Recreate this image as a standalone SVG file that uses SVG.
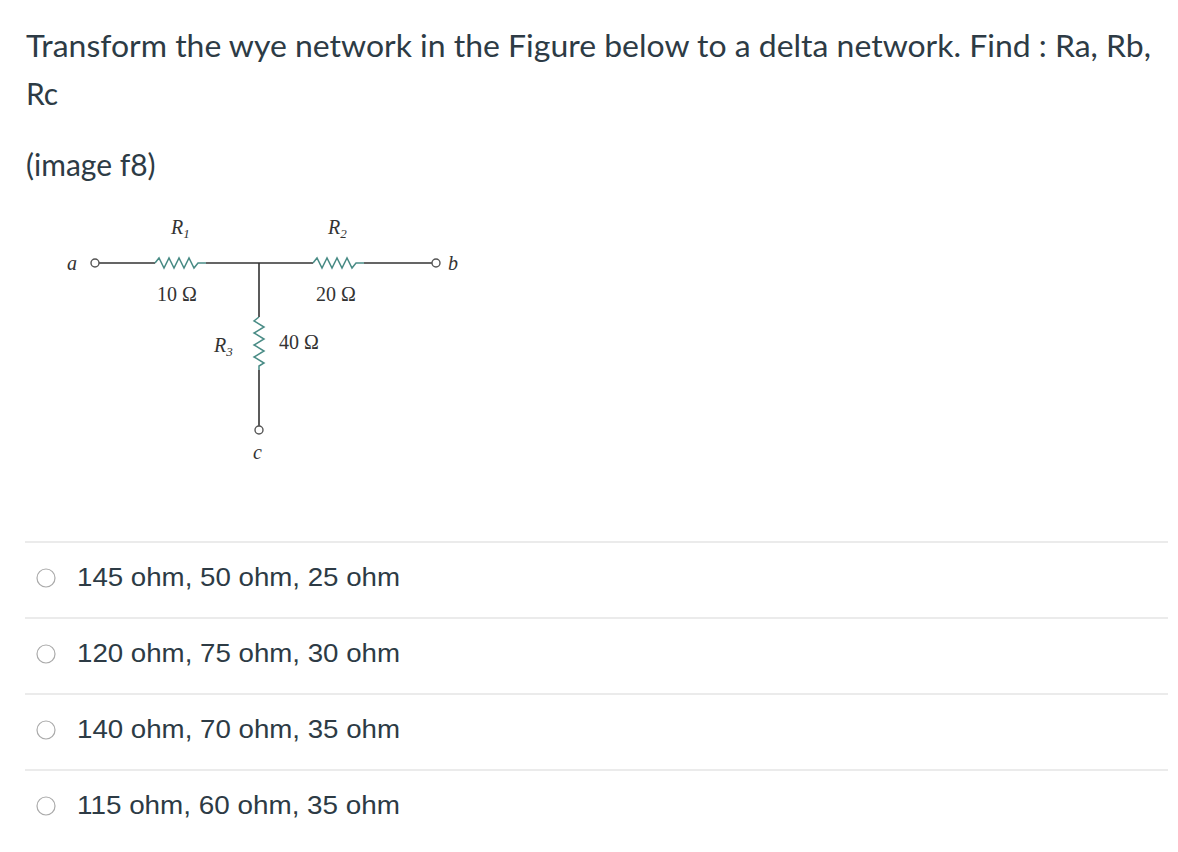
<svg xmlns="http://www.w3.org/2000/svg" width="1178" height="852" viewBox="0 0 1178 852">
<style>
.q{font-family:Lato,"Liberation Sans",sans-serif;font-size:30px;fill:#2d3b45}
.o{font-family:"Liberation Sans",Arial,sans-serif;font-size:26px;fill:#2d3b45}
.c{font-family:"Liberation Serif",serif;font-size:20px;fill:#333}
.w{stroke:#333;stroke-width:1.6;fill:none}
.r{stroke:#4a8c86;stroke-width:1.5;fill:none}
.t{stroke:#555;stroke-width:1.4;fill:#fff}
.sep{stroke:#d7d7d7;stroke-width:1.2}
.rad{fill:#fff;stroke:#aaa;stroke-width:1.2}
</style>
<rect width="1178" height="852" fill="#fff"/>
<text class="q" x="26" y="57" textLength="1125" lengthAdjust="spacingAndGlyphs">Transform the wye network in the Figure below to a delta network. Find : Ra, Rb,</text>
<text class="q" x="26" y="105">Rc</text>
<text class="q" x="26" y="176">(image f8)</text>
<g id="connectors">
<path class="w" d="M99 263H155M206 263H313M364 263H432M259 263V317M259 370V426"/>
</g>
<g id="R1"><path class="r" d="M155 263l4 -5l5 10l5 -10l5 10l5 -10l5 10l5 -10l5 10l4 -5h8"/>
<text class="c" x="171" y="234" font-style="italic">R<tspan font-size="13" dy="4">1</tspan></text>
<text class="c" x="157" y="301">10 Ω</text></g>
<g id="R2"><path class="r" d="M313 263l4 -5l5 10l5 -10l5 10l5 -10l5 10l5 -10l5 10l4 -5h8"/>
<text class="c" x="328" y="234" font-style="italic">R<tspan font-size="13" dy="4">2</tspan></text>
<text class="c" x="316" y="301">20 Ω</text></g>
<g id="R3"><path class="r" d="M259 317l-5 4l10 6l-10 6l10 6l-10 6l10 6l-10 6l10 6l-5 3v4"/>
<text class="c" x="214" y="352" font-style="italic">R<tspan font-size="13" dy="4">3</tspan></text>
<text class="c" x="279" y="349">40 Ω</text></g>
<g id="a"><circle class="t" cx="95" cy="263" r="4"/><text class="c" x="67" y="270" font-style="italic">a</text></g>
<g id="b"><circle class="t" cx="436" cy="263" r="4"/><text class="c" x="448" y="270" font-style="italic">b</text></g>
<g id="c"><circle class="t" cx="259" cy="430" r="4"/><text class="c" x="253" y="459" font-style="italic">c</text></g>
<g id="options">
<line class="sep" x1="25" y1="542" x2="1168" y2="542"/>
<line class="sep" x1="25" y1="618" x2="1168" y2="618"/>
<line class="sep" x1="25" y1="694" x2="1168" y2="694"/>
<line class="sep" x1="25" y1="770" x2="1168" y2="770"/>
<circle class="rad" cx="46" cy="578" r="9"/><text class="o" x="77" y="586" textLength="323" lengthAdjust="spacingAndGlyphs">145 ohm, 50 ohm, 25 ohm</text>
<circle class="rad" cx="46" cy="654" r="9"/><text class="o" x="77" y="662" textLength="323" lengthAdjust="spacingAndGlyphs">120 ohm, 75 ohm, 30 ohm</text>
<circle class="rad" cx="46" cy="730" r="9"/><text class="o" x="77" y="738" textLength="323" lengthAdjust="spacingAndGlyphs">140 ohm, 70 ohm, 35 ohm</text>
<circle class="rad" cx="46" cy="806" r="9"/><text class="o" x="77" y="814" textLength="323" lengthAdjust="spacingAndGlyphs">115 ohm, 60 ohm, 35 ohm</text>
</g>
</svg>
